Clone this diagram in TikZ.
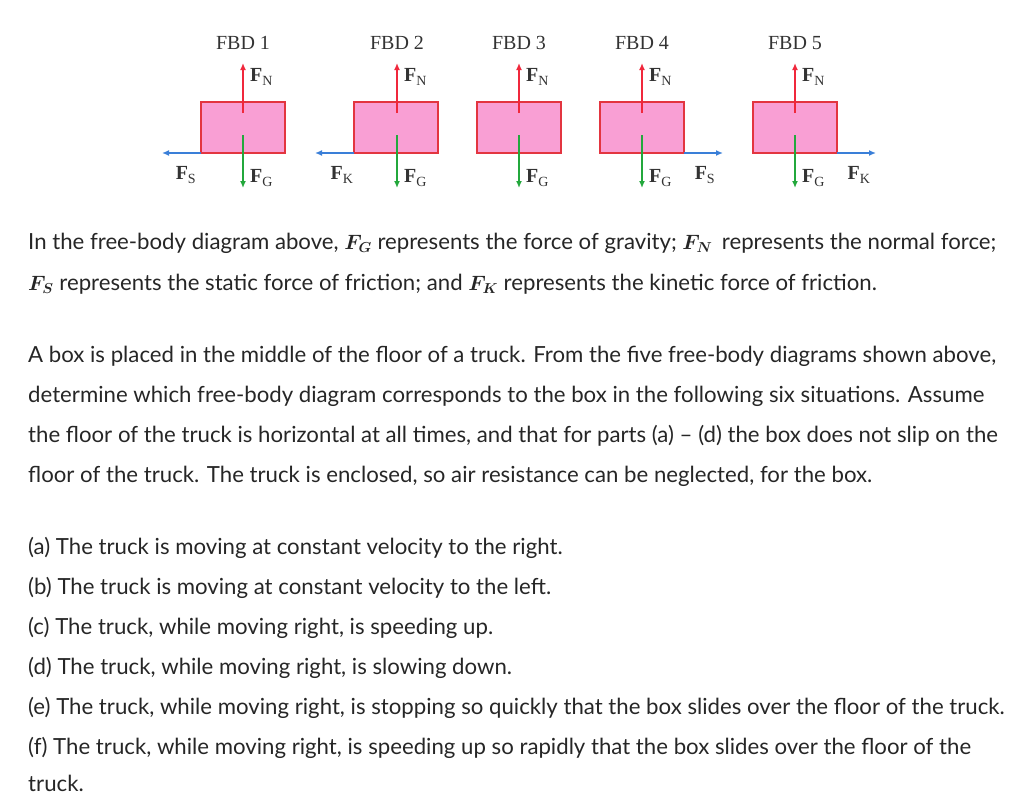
\documentclass[tikz,border=0pt]{standalone}
\usepackage{amsmath,bm}
\usepackage{fontspec}
\usetikzlibrary{arrows.meta}
\setmainfont{Lato}
\newfontfamily\fbdfont{Liberation Serif}
\definecolor{boxfill}{HTML}{F99FD4}
\definecolor{boxline}{HTML}{E33540}
\definecolor{nred}{HTML}{F0283C}
\definecolor{ggreen}{HTML}{23A83C}
\definecolor{fblue}{HTML}{3A7FD8}
\begin{document}
\begin{tikzpicture}[x=1pt,y=-1pt,
  boxs/.style={draw=boxline,line width=1.6pt,fill=boxfill},
  fn/.style={nred,line width=1.8pt,-{Latex[length=7pt,width=6pt]}},
  fg/.style={ggreen,line width=1.8pt,-{Latex[length=7pt,width=6pt]}},
  ff/.style={fblue,line width=1.8pt,-{Latex[length=7pt,width=6pt]}},
  lab/.style={font=\fbdfont\fontsize{20}{20}\selectfont,inner sep=0pt,text=black!80},
  txt/.style={anchor=base west,inner sep=0pt,font=\fontsize{22.2}{24}\selectfont,text=black!85}]
\useasboundingbox (0,0) rectangle (1024,801);
\foreach \i/\x/\cx in {1/201/243,2/354/397,3/477/519,4/600/642,5/753/795}{
  \node[lab,font=\fbdfont\fontsize{20}{20}\selectfont] (t\i) at (\cx,43) {FBD \i};
  \draw[boxs] (\x,102) rectangle +(84,51);
  \coordinate (up\i) at (\cx,113); \coordinate (upe\i) at (\cx,63);
  \coordinate (dn\i) at (\cx,135); \coordinate (dne\i) at (\cx,188);
  \draw[fn] (up\i) -- (upe\i);
  \draw[fg] (dn\i) -- (dne\i);
  \node[lab,anchor=west] (n\i) at (\cx+7,77) {\textbf{F}\textsubscript{N}};
  \node[lab,anchor=west] (g\i) at (\cx+7,178) {\textbf{F}\textsubscript{G}};
}
\coordinate (a1) at (201,153); \coordinate (b1) at (162,153);
\draw[ff] (a1) -- (b1);
\node[lab] (s1) at (186,175) {\textbf{F}\textsubscript{S}};
\coordinate (a2) at (354,153); \coordinate (b2) at (315,153);
\draw[ff] (a2) -- (b2);
\node[lab] (k2) at (342,175) {\textbf{F}\textsubscript{K}};
\coordinate (a4) at (684,153); \coordinate (b4) at (723,153);
\draw[ff] (a4) -- (b4);
\node[lab] (s4) at (705,175) {\textbf{F}\textsubscript{S}};
\coordinate (a5) at (837,153); \coordinate (b5) at (876,153);
\draw[ff] (a5) -- (b5);
\node[lab] (k5) at (859,175) {\textbf{F}\textsubscript{K}};
\node[txt] (l1) at (28,249) {In the free-body diagram above, $\bm{F_G}$ represents the force of gravity; $\bm{F_N}$\, represents the normal force;};
\node[txt] (l2) at (28,290) {$\bm{F_S}$ represents the static force of friction; and $\bm{F_K}$ represents the kinetic force of friction.};
\node[txt] (l3) at (28,362) {A box is placed in the middle of the floor of a truck. From the five free-body diagrams shown above,};
\node[txt] (l4) at (28,402) {determine which free-body diagram corresponds to the box in the following six situations. Assume};
\node[txt] (l5) at (28,442) {the floor of the truck is horizontal at all times, and that for parts (a) – (d) the box does not slip on the};
\node[txt] (l6) at (28,482) {floor of the truck. The truck is enclosed, so air resistance can be neglected, for the box.};
\node[txt] (l7) at (28,554) {(a) The truck is moving at constant velocity to the right.};
\node[txt] (l8) at (28,594) {(b) The truck is moving at constant velocity to the left.};
\node[txt] (l9) at (28,634) {(c) The truck, while moving right, is speeding up.};
\node[txt] (l10) at (28,674) {(d) The truck, while moving right, is slowing down.};
\node[txt] (l11) at (28,714) {(e) The truck, while moving right, is stopping so quickly that the box slides over the floor of the truck.};
\node[txt] (l12) at (28,754) {(f) The truck, while moving right, is speeding up so rapidly that the box slides over the floor of the};
\node[txt] (l13) at (28,791) {truck.};
\end{tikzpicture}
\end{document}
